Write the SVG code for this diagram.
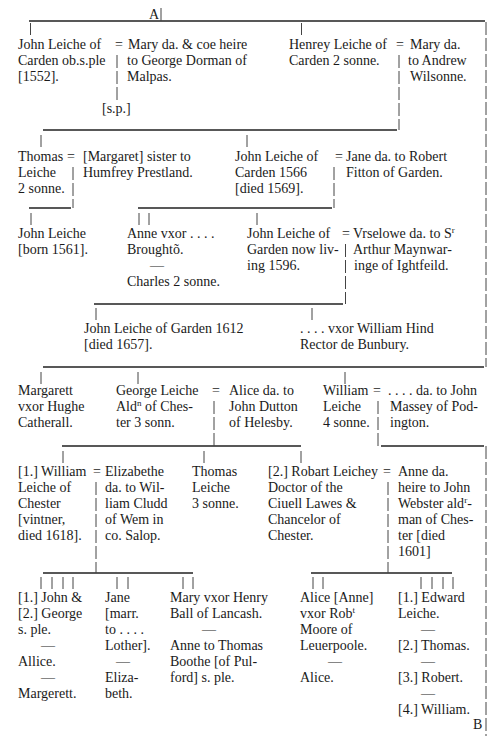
<svg xmlns="http://www.w3.org/2000/svg" width="500" height="750" viewBox="0 0 500 750">
<style>
text{font-family:"Liberation Serif","Times New Roman",serif;font-size:14px;fill:#1a1a1a}
.h{stroke:#222;stroke-width:1.3;fill:none}
.t{stroke:#444;stroke-width:1;fill:none}
.b{stroke:#444;stroke-width:1;fill:none;stroke-dasharray:13 3}
.m{text-anchor:middle}
.sup{font-size:9px}
</style>
<rect width="500" height="750" fill="#fff"/>
<g id="connectors">
<path class="h" d="M29 21H485M43 130H397M29 208H71M138 208H332M94 304H343M43 367H484M62 446H301M381 446H484M43 573H193M311 573H452"/>
<path class="t" d="M161 8V21M30.5 23V35M301.5 23V35M41 135V147M247 135V147M31 213V225M139 213V225M149 213V225M257 213V225M96 308V320M312 308V320M41 372V384M138 372V384M345 372V384M63 451V463M204 451V463M301 451V463M41 577V589M52 577V589M63 577V589M73 577V589M117 577V589M128 577V589M183 577V589M193 577V589M313 577V589M323 577V589M421 577V589M432 577V589M443 577V589M453 577V589"/>
<path class="b" d="M117 55V100M399 55V130M486 22V367M73 167V208M334 167V208M345.5 244V304M214 401V446M378 401V446M486 446V736M96 482V573M388 482V573"/>
</g>
<g id="A"><text x="149" y="19">A</text></g>
<g id="john-leiche-carden"><text x="18" y="49">John Leiche of</text><text x="18" y="65">Carden ob.s.ple</text><text x="18" y="81">[1552].</text></g>
<g id="eq1"><text x="115" y="49">=</text></g>
<g id="mary-dorman"><text x="128" y="49">Mary da. &amp; coe heire</text><text x="127" y="65">to George Dorman of</text><text x="127" y="81">Malpas.</text></g>
<g id="sp"><text x="102" y="113">[s.p.]</text></g>
<g id="henrey-leiche"><text x="289" y="49">Henrey Leiche of</text><text x="289" y="65">Carden 2 sonne.</text></g>
<g id="eq2"><text x="396" y="49">=</text></g>
<g id="mary-wilsonne"><text x="410" y="49">Mary da.</text><text x="408" y="65">to Andrew</text><text x="410" y="81">Wilsonne.</text></g>
<g id="thomas-leiche"><text x="18" y="161">Thomas</text><text x="18" y="177">Leiche</text><text x="18" y="193">2 sonne.</text></g>
<g id="eq3"><text x="67" y="161">=</text></g>
<g id="margaret"><text x="83" y="161">[Margaret] sister to</text><text x="83" y="177">Humfrey Prestland.</text></g>
<g id="john-leiche-1566"><text x="235" y="161">John Leiche of</text><text x="235" y="177">Carden 1566</text><text x="235" y="193">[died 1569].</text></g>
<g id="eq4"><text x="335" y="161">=</text></g>
<g id="jane-fitton"><text x="346" y="161">Jane da. to Robert</text><text x="346" y="177">Fitton of Garden.</text></g>
<g id="john-leiche-1561"><text x="18" y="238">John Leiche</text><text x="18" y="254">[born 1561].</text></g>
<g id="anne-broughton"><text x="127" y="238">Anne vxor . . . .</text><text x="127" y="254">Broughtõ.</text><text class="m" x="157" y="270">—</text><text x="127" y="286">Charles 2 sonne.</text></g>
<g id="john-leiche-1596"><text x="247" y="238">John Leiche of</text><text x="247" y="254">Garden now liv-</text><text x="247" y="270">ing 1596.</text></g>
<g id="eq5"><text x="342" y="238">=</text></g>
<g id="vrselowe"><text x="353" y="238">Vrselowe da. to S<tspan class="sup" dy="-5">r</tspan></text><text x="353" y="254">Arthur Maynwar-</text><text x="354" y="270">inge of Ightfeild.</text></g>
<g id="john-leiche-1612"><text x="84" y="333">John Leiche of Garden 1612</text><text x="84" y="349">[died 1657].</text></g>
<g id="vxor-hind"><text x="300" y="333">. . . . vxor William Hind</text><text x="300" y="349">Rector de Bunbury.</text></g>
<g id="margarett"><text x="18" y="395">Margarett</text><text x="18" y="411">vxor Hughe</text><text x="18" y="427">Catherall.</text></g>
<g id="george-leiche"><text x="116" y="395">George Leiche</text><text x="116" y="411">Ald<tspan class="sup" dy="-5">n</tspan><tspan dy="5"> of Ches-</tspan></text><text x="116" y="427">ter 3 sonn.</text></g>
<g id="eq6"><text x="212" y="395">=</text></g>
<g id="alice-dutton"><text x="229" y="395">Alice da. to</text><text x="229" y="411">John Dutton</text><text x="229" y="427">of Helesby.</text></g>
<g id="william-leiche-4"><text x="323" y="395">William</text><text x="323" y="411">Leiche</text><text x="323" y="427">4 sonne.</text></g>
<g id="eq7"><text x="373" y="395">=</text></g>
<g id="massey"><text x="388" y="395">. . . . da. to John</text><text x="390" y="411">Massey of Pod-</text><text x="390" y="427">ington.</text></g>
<g id="william-1618"><text x="18" y="476">[1.] William</text><text x="18" y="492">Leiche of</text><text x="18" y="508">Chester</text><text x="18" y="524">[vintner,</text><text x="18" y="540">died 1618].</text></g>
<g id="eq8"><text x="93" y="476">=</text></g>
<g id="elizabethe"><text x="105" y="476">Elizabethe</text><text x="105" y="492">da. to Wil-</text><text x="105" y="508">liam Cludd</text><text x="105" y="524">of Wem in</text><text x="105" y="540">co. Salop.</text></g>
<g id="thomas-3"><text x="192" y="476">Thomas</text><text x="192" y="492">Leiche</text><text x="192" y="508">3 sonne.</text></g>
<g id="robart"><text x="268" y="476">[2.] Robart Leichey</text><text x="268" y="492">Doctor of the</text><text x="268" y="508">Ciuell Lawes &amp;</text><text x="268" y="524">Chancelor of</text><text x="268" y="540">Chester.</text></g>
<g id="eq9"><text x="383" y="476">=</text></g>
<g id="anne-webster"><text x="398" y="476">Anne da.</text><text x="398" y="492">heire to John</text><text x="398" y="508">Webster ald<tspan class="sup" dy="-5">r</tspan><tspan dy="5">-</tspan></text><text x="398" y="524">man of Ches-</text><text x="398" y="540">ter [died</text><text x="398" y="556">1601]</text></g>
<g id="john-george"><text x="18" y="602">[1.] John &amp;</text><text x="18" y="618">[2.] George</text><text x="18" y="634">s. ple.</text><text class="m" x="48" y="650">—</text><text x="18" y="666">Allice.</text><text class="m" x="48" y="682">—</text><text x="18" y="698">Margerett.</text></g>
<g id="jane-lother"><text x="105" y="602">Jane</text><text x="105" y="618">[marr.</text><text x="105" y="634">to . . . .</text><text x="105" y="650">Lother].</text><text class="m" x="123" y="666">—</text><text x="105" y="682">Eliza-</text><text x="105" y="698">beth.</text></g>
<g id="mary-ball"><text x="170" y="602">Mary vxor Henry</text><text x="170" y="618">Ball of Lancash.</text><text class="m" x="209" y="634">—</text><text x="170" y="650">Anne to Thomas</text><text x="170" y="666">Boothe [of Pul-</text><text x="170" y="682">ford] s. ple.</text></g>
<g id="alice-moore"><text x="300" y="602">Alice [Anne]</text><text x="300" y="618">vxor Rob<tspan class="sup" dy="-5">t</tspan></text><text x="300" y="634">Moore of</text><text x="300" y="650">Leuerpoole.</text><text class="m" x="335" y="666">—</text><text x="300" y="682">Alice.</text></g>
<g id="edward"><text x="398" y="602">[1.] Edward</text><text x="398" y="618">Leiche.</text><text class="m" x="428" y="634">—</text><text x="398" y="650">[2.] Thomas.</text><text class="m" x="428" y="666">—</text><text x="398" y="682">[3.] Robert.</text><text class="m" x="428" y="698">—</text><text x="398" y="714">[4.] William.</text></g>
<g id="B"><text x="473" y="729">B</text></g>
</svg>
